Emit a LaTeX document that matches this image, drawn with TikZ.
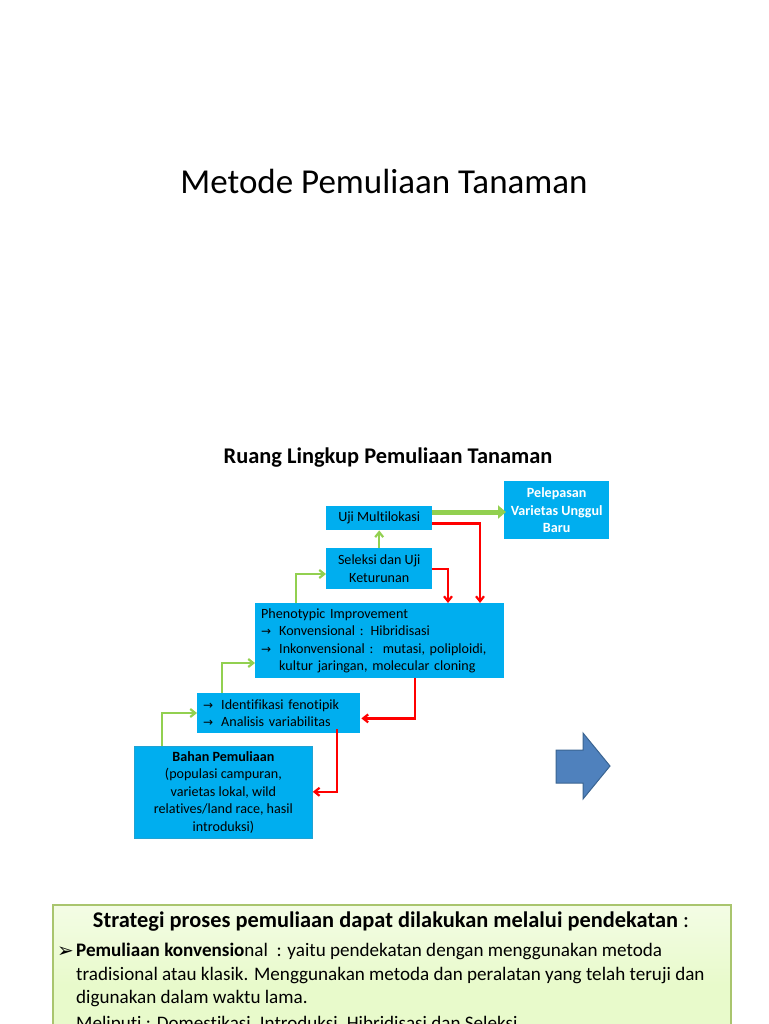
\documentclass[tikz,border=0pt]{standalone}
\usepackage{fontspec}
\setmainfont{Carlito}[Ligatures=NoCommon]
\newfontfamily\symfont{DejaVu Sans}
\usetikzlibrary{positioning}
\usetikzlibrary{arrows.meta,calc}
\definecolor{boxblue}{HTML}{00AEEF}
\definecolor{stepgreen}{HTML}{92D050}
\definecolor{panelgreen}{HTML}{E8FACB}
\definecolor{panelline}{HTML}{A9C56E}
\definecolor{pentblue}{HTML}{4F81BD}
\definecolor{pentline}{HTML}{3A6491}
\newcommand{\toarrow}{\makebox[18pt][l]{\symfont\fontsize{12}{14}\selectfont →}}
\tikzset{
  flowbox/.style={fill=boxblue,anchor=north west,inner sep=0pt,align=center,
    font=\fontsize{14.1}{17.5}\selectfont},
  upstep/.style={draw=stepgreen,line width=2.2pt,-{Straight Barb[length=5pt,width=8pt]}},
  backstep/.style={draw=red,line width=2.2pt,-{Straight Barb[length=5pt,width=8pt]}},
  paneltext/.style={anchor=base west,inner sep=0pt,font=\fontsize{19.1}{23}\selectfont}
}
\begin{document}
\begin{tikzpicture}[x=1pt,y=1pt]
\useasboundingbox (0,0) rectangle (768,-1024);
\clip (0,0) rectangle (768,-1024);
\node[anchor=base,inner sep=0pt,font=\fontsize{35}{38}\selectfont] (title) at (384,-194) {Metode Pemuliaan Tanaman};
\node[anchor=base,inner sep=0pt,font=\bfseries\fontsize{22.4}{26}\selectfont] (subtitle) at (388,-463) {Ruang Lingkup Pemuliaan Tanaman};
% the boxes
\node[flowbox,minimum width=105pt,minimum height=58pt,text=white,font=\bfseries\fontsize{14.1}{17.5}\selectfont] (release) at (504,-481) {Pelepasan\\Varietas Unggul\\Baru};
\node[flowbox,minimum width=106pt,minimum height=24pt] (multi) at (326,-506) {Uji Multilokasi};
\node[flowbox,minimum width=106pt,minimum height=41pt] (select) at (326,-548) {Seleksi dan Uji\\Keturunan};
\node[flowbox,minimum width=249pt,minimum height=75pt,align=left,text width=243pt,inner xsep=3pt] (pheno) at (255,-603) {\hspace*{3pt}Phenotypic Improvement\\
  \hspace*{3pt}\toarrow Konvensional : Hibridisasi\\
  \hspace*{3pt}\toarrow Inkonvensional :\ \ mutasi, poliploidi,\\
  \hspace*{21pt}kultur jaringan, molecular cloning};
\node[flowbox,minimum width=163pt,minimum height=40pt,align=left,text width=157pt,inner xsep=3pt] (ident) at (197,-693) {\hspace*{3pt}\toarrow Identifikasi fenotipik\\
  \hspace*{3pt}\toarrow Analisis variabilitas};
\node[flowbox,minimum width=178pt,minimum height=92pt,draw=boxblue!75!gray,line width=.8pt] (source) at (134,-746) {\textbf{Bahan Pemuliaan}\\(populasi campuran,\\varietas lokal, wild\\relatives/land race, hasil\\introduksi)};
% the arrows
\draw[draw=stepgreen,line width=5pt,-{Triangle[length=8pt,width=13pt]}] ($(multi.north east)+(0,-6)$) -- ($(release.north west)+(2,-31)$);
\draw[backstep] ($(multi.south east)+(0,7)$) -| ($(pheno.north west)+(225,0)$);
\draw[upstep] (select.north) -- (multi.south);
\draw[backstep] (select.east) -| ($(pheno.north west)+(193,0)$);
\draw[upstep] ($(pheno.north west)+(41,0)$) |- ($(select.north west)+(0,-26)$);
\draw[upstep] ($(ident.north west)+(25,0)$) |- ($(pheno.north west)+(0,-60)$);
\draw[backstep] ($(pheno.south west)+(160,0)$) |- ($(ident.south east)+(1,15)$);
\draw[upstep] ($(source.north west)+(28,0)$) |- ($(ident.north west)+(0,-20)$);
\draw[backstep] ($(ident.south west)+(140,4)$) |- ($(source.south east)+(0,47)$);
% block arrow
\draw[fill=pentblue,draw=pentline,line width=1pt] (556,-750) -- (583,-750) -- (583,-733) -- (610,-766) -- (583,-799) -- (583,-783) -- (556,-783) -- cycle;
% lower panel
\shade[top color=panelgreen!50!white,bottom color=panelgreen] (53,-905) rectangle (731,-985);
\fill[panelgreen] (53,-985) rectangle (731,-1030);
\draw[panelline,line width=1.4pt] (53,-1030) -- (53,-905) -- (731,-905) -- (731,-1030);
\node[anchor=base,inner sep=0pt,font=\fontsize{22.4}{26}\selectfont] (strategy) at (391,-927) {\textbf{Strategi proses pemuliaan dapat dilakukan melalui pendekatan} :};
\node[anchor=base west,inner sep=0pt,font=\symfont\fontsize{20}{22}\selectfont] (bullet) at (57,-957) {➢};
\node[paneltext] (lineone) at (76,-956) {\textbf{Pemuliaan konvensio}nal\ \ : yaitu pendekatan dengan menggunakan metoda};
\node[paneltext] (linetwo) at (76,-980) {tradisional atau klasik. Menggunakan metoda dan peralatan yang telah teruji dan};
\node[paneltext] (linethree) at (76,-1003) {digunakan dalam waktu lama.};
\node[paneltext] (linefour) at (76,-1029) {Meliputi : Domestikasi, Introduksi, Hibridisasi dan Seleksi};
\end{tikzpicture}
\end{document}
